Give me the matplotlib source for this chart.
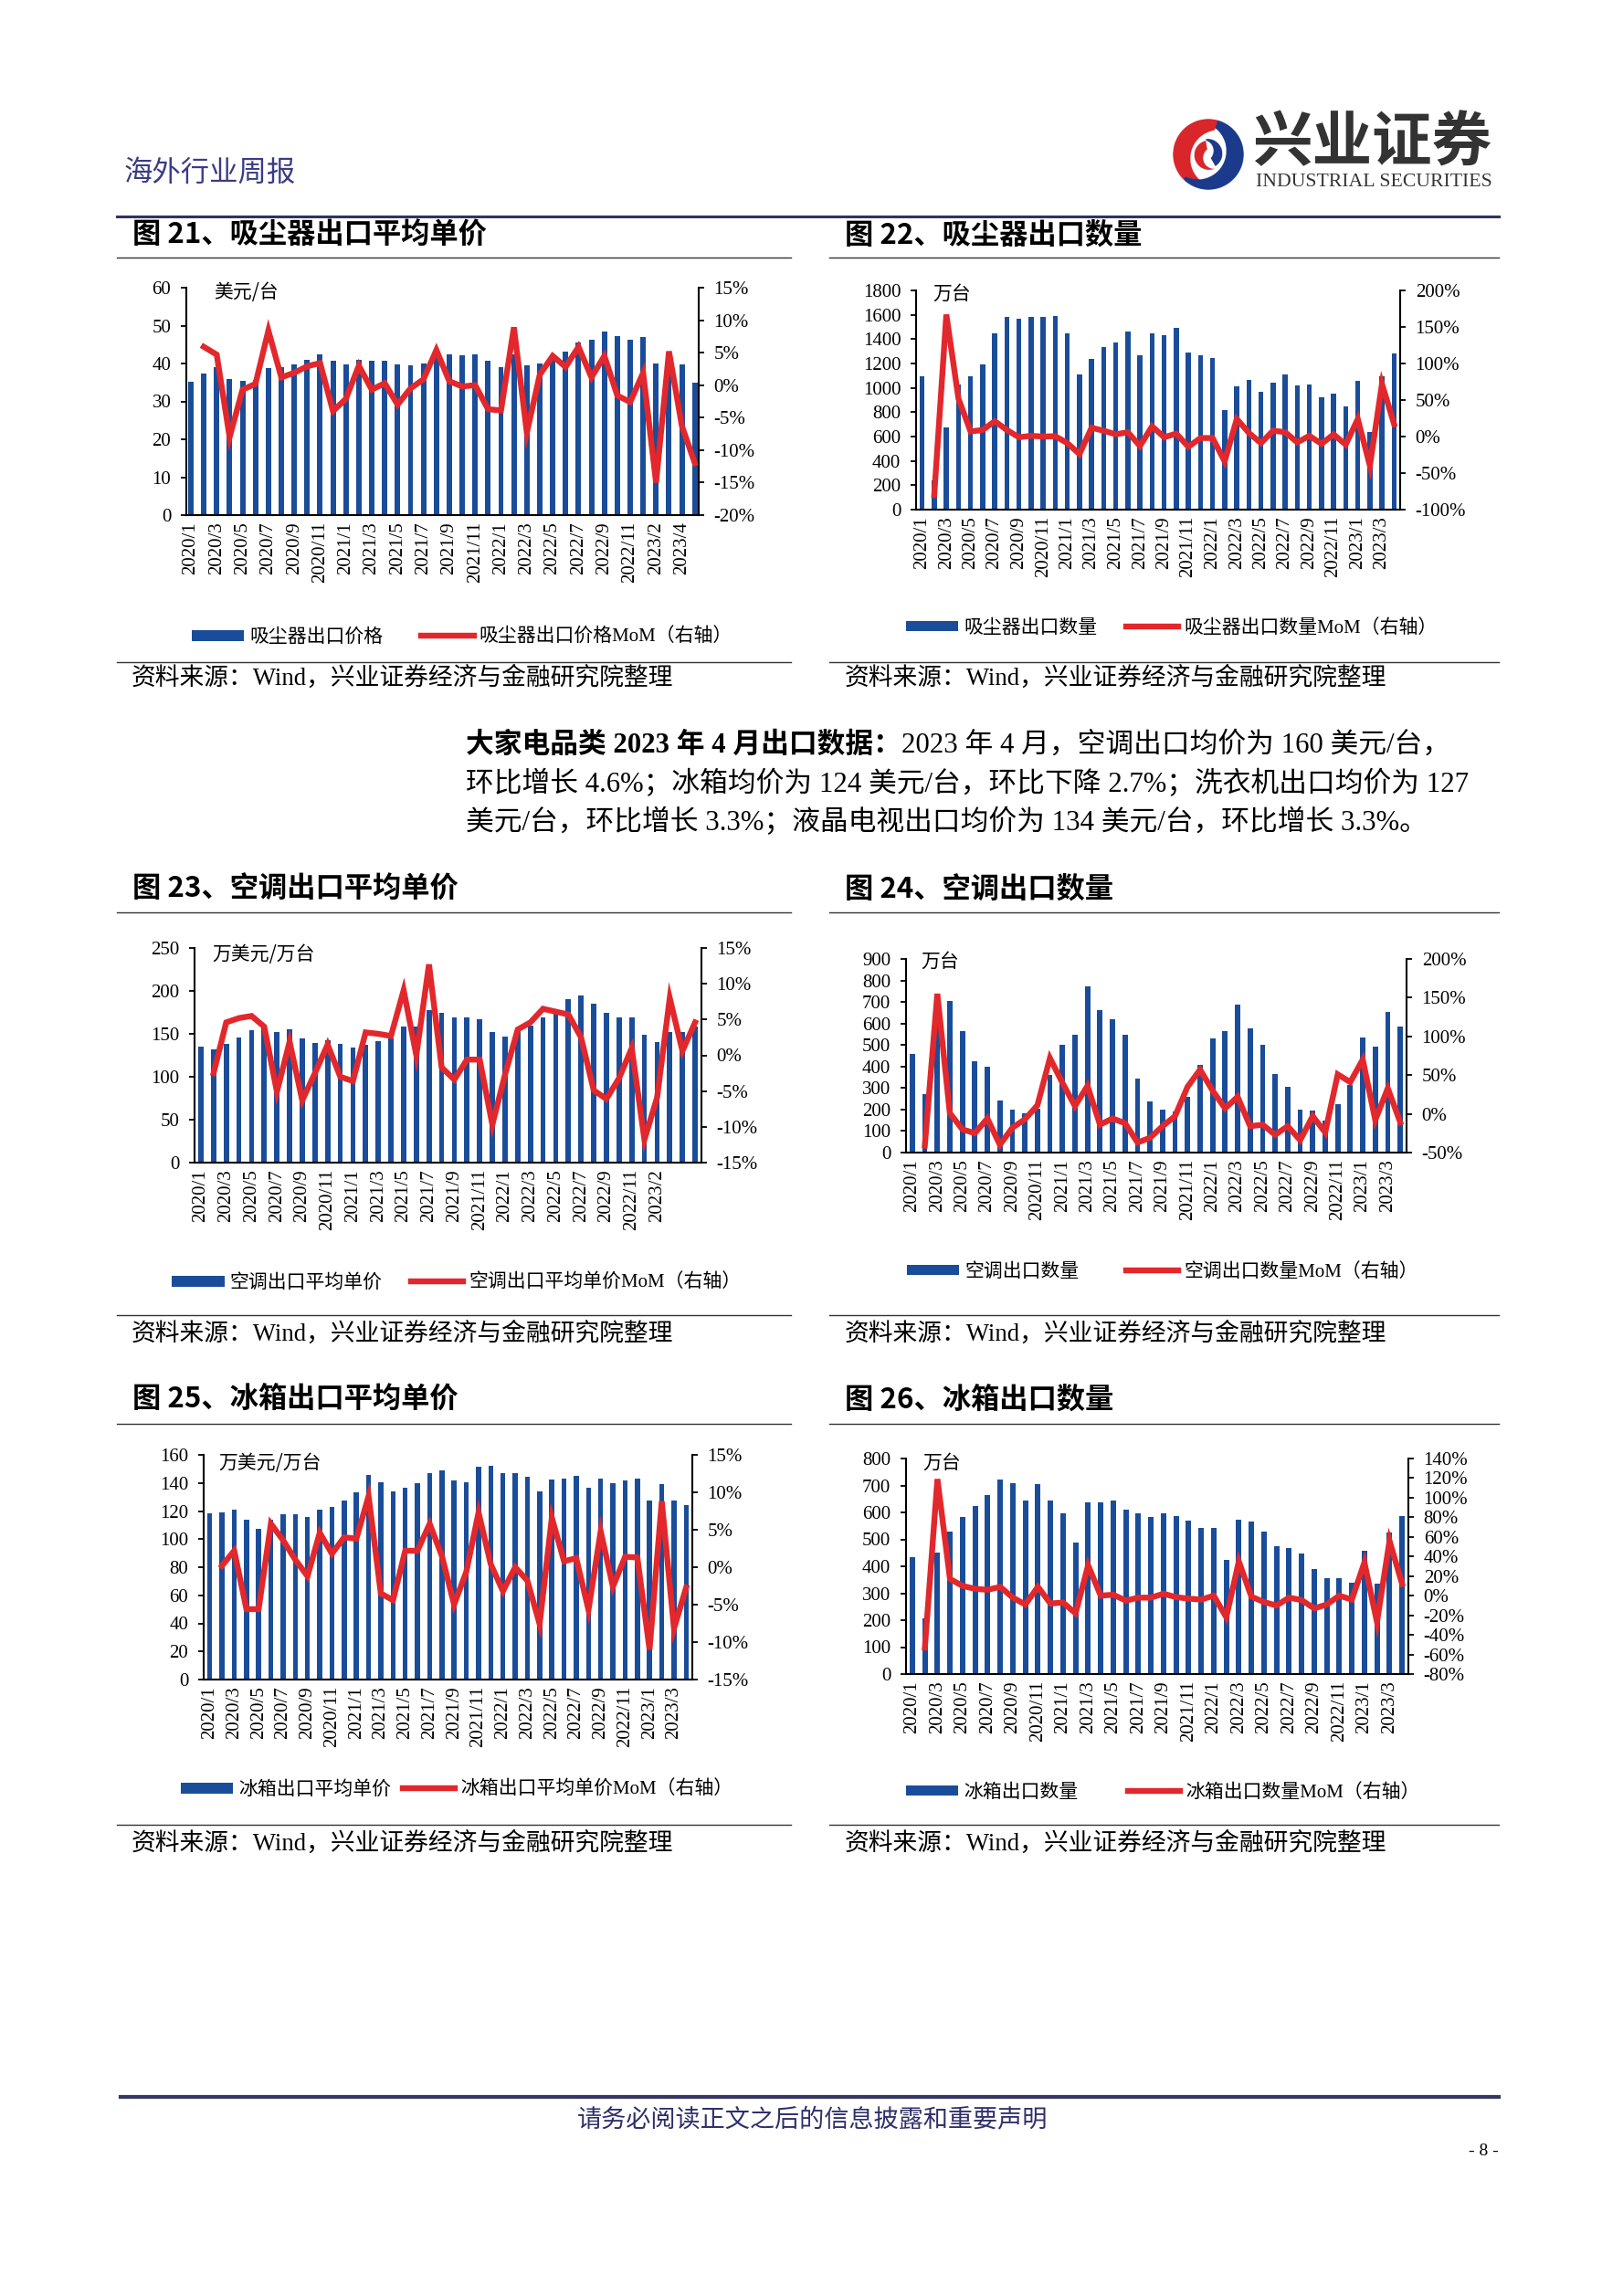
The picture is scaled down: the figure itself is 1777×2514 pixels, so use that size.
import numpy as np
import matplotlib
matplotlib.use('Agg')
import matplotlib.pyplot as plt
from matplotlib.font_manager import FontProperties
from matplotlib.lines import Line2D

# ---------------- data ----------------
months = ['2020/1', '2020/2', '2020/3', '2020/4', '2020/5', '2020/6', '2020/7', '2020/8',
          '2020/9', '2020/10', '2020/11', '2020/12', '2021/1', '2021/2', '2021/3', '2021/4',
          '2021/5', '2021/6', '2021/7', '2021/8', '2021/9', '2021/10', '2021/11', '2021/12',
          '2022/1', '2022/2', '2022/3', '2022/4', '2022/5', '2022/6', '2022/7', '2022/8',
          '2022/9', '2022/10', '2022/11', '2022/12', '2023/1', '2023/2', '2023/3', '2023/4']

labels_a = ['2020/1', '2020/3', '2020/5', '2020/7', '2020/9', '2020/11', '2021/1', '2021/3',
            '2021/5', '2021/7', '2021/9', '2021/11', '2022/1', '2022/3', '2022/5', '2022/7',
            '2022/9', '2022/11', '2023/2', '2023/4']
labels_b = ['2020/1', '2020/3', '2020/5', '2020/7', '2020/9', '2020/11', '2021/1', '2021/3',
            '2021/5', '2021/7', '2021/9', '2021/11', '2022/1', '2022/3', '2022/5', '2022/7',
            '2022/9', '2022/11', '2023/1', '2023/3']
labels_c = ['2020/1', '2020/3', '2020/5', '2020/7', '2020/9', '2020/11', '2021/1', '2021/3',
            '2021/5', '2021/7', '2021/9', '2021/11', '2022/1', '2022/3', '2022/5', '2022/7',
            '2022/9', '2022/11', '2023/2']

nan = np.nan
vac_price = [35.3, 37.3, 39.0, 35.9, 35.5, 35.7, 38.7, 39.0, 39.8, 41.0, 42.5, 40.8, 39.8, 41.0,
             40.7, 40.7, 39.7, 39.4, 40.1, 42.3, 42.5, 42.2, 42.5, 40.7, 39.0, 42.5, 39.5, 40.1,
             41.1, 43.1, 45.5, 46.3, 48.4, 47.3, 46.3, 47.0, 40.1, 42.2, 39.8, 34.9]
vac_price_mom = [nan, 5.9, 4.7, -8.0, -0.7, 0.2, 8.4, 1.2, 1.9, 2.9, 3.4, -4.0, -2.1, 3.0, -0.7,
                 0.3, -3.0, -0.5, 0.9, 5.4, 0.6, -0.2, 0.0, -3.7, -3.9, 8.9, -7.3, 1.6, 4.5, 2.8,
                 5.9, 1.2, 4.5, -1.6, -2.6, 1.9, -15.0, 5.2, -6.3, -12.0]

vac_qty = [1095, 240, 675, 1025, 1095, 1195, 1450, 1580, 1570, 1580, 1580, 1588, 1450, 1108,
           1238, 1333, 1375, 1463, 1270, 1450, 1430, 1493, 1288, 1268, 1245, 818, 1012, 1063,
           968, 1043, 1108, 1020, 1030, 925, 955, 850, 1055, 638, 1095, 1280]
vac_qty_mom = [nan, -80, 167, 52, 7, 9, 21, 9, -1, 1, 0, 0.5, -9, -24, 12, 8, 3, 6, -13, 14, -1,
               4, -14, -2, -2, -34, 24, 5, -9, 8, 6, -8, 1, -10, 3, -11, 24, -40, 72, 17]

ac_price = [135, 132, 138, 146, 154, 160, 152, 155, 145, 139, 143, 138, 134, 137, 141, 145, 158,
            158, 178, 175, 169, 169, 167, 152, 147, 153, 160, 169, 179, 190, 195, 185, 175, 169,
            169, 149, 140, 152, 152, 159]
ac_price_mom = [nan, -2.5, 4.6, 5.2, 5.5, 4.0, -5.1, 1.9, -6.3, -2.5, 1.5, -3.0, -3.6, 3.2, 3.0,
                2.7, 9.1, 0.0, 12.7, -1.7, -3.4, -0.6, -0.6, -9.7, -2.7, 3.6, 4.6, 6.5, 6.1, 5.7,
                2.5, -4.9, -6.1, -3.2, 1.0, -11.8, -5.9, 8.0, 0.6, 4.6]

ac_qty = [460, 272, 695, 704, 564, 424, 400, 241, 198, 184, 205, 360, 499, 546, 772, 662, 619,
          546, 344, 237, 198, 192, 259, 407, 529, 564, 687, 577, 499, 364, 305, 200, 194, 148,
          223, 315, 534, 492, 655, 584]
ac_qty_mom = [nan, -41, 155, 1, -20, -25, -6, -40, -18, -7, 11, 72, 40, 10, 36, -14, -6, -12,
              -37, -31, -16, -3, 35, 57, 30, 7, 22, -16, -14, -27, -16, -34, -3, -24, 51, 41, 70,
              -8, 33, -11]

fr_price = [118.5, 119, 121, 113.5, 107, 113.5, 117.4, 117.4, 115.7, 121, 123.2, 127.8, 133.6,
            145.5, 140.8, 134, 136.9, 139.7, 147, 149.2, 141.6, 140.8, 151.4, 152, 147, 147, 144.4,
            134.3, 142.3, 143.4, 145.1, 136.9, 143.4, 139.7, 141.6, 143.4, 127.8, 139, 127.8, 124]
fr_price_mom = [nan, 0.2, 2.2, -5.6, -5.6, 5.8, 3.6, 1.0, -1.2, 4.6, 1.8, 4.0, 3.8, 9.5, -3.5,
                -4.4, 2.2, 2.2, 5.8, 1.5, -5.0, -0.6, 7.3, 0.4, -3.2, 0.0, -1.8, -7.6, 6.6, 0.8,
                1.2, -5.7, 4.8, -2.6, 1.4, 1.3, -11.0, 8.8, -8.2, -2.7]

fr_qty = [434, 206, 451, 530, 584, 625, 665, 723, 710, 645, 704, 645, 597, 487, 637, 637, 645,
          611, 597, 584, 597, 588, 569, 544, 544, 423, 572, 567, 530, 476, 468, 447, 389, 355,
          355, 340, 456, 335, 524, 588]
fr_qty_mom = [nan, -53, 119, 17, 10, 7, 6, 9, -2, -9, 9, -8, -7, -18, 31, 0, 1, -5, -2, -2, 2,
              -1.5, -3, -4, 0, -22, 35, -1, -6.5, -10, -2, -4.5, -13, -9, 0, -4, 34, -27, 56, 12]

# ---------------- figure ----------------
W, H = 1777, 2514
fig = plt.figure(figsize=(W / 100, H / 100), dpi=100)
fig.patch.set_facecolor('white')
renderer = fig.canvas.get_renderer()

CJK = 'Noto Sans CJK SC'
MIX = ['Liberation Serif', 'Noto Sans CJK SC']
BLUE = '#1a4d99'
RED = '#e2282c'


def fx(x):
    return x / W


def fy(y):
    return 1 - y / H


def hline(x0, x1, y, lw, color):
    fig.add_artist(Line2D([fx(x0), fx(x1)], [fy(y), fy(y)], lw=lw, color=color,
                          transform=fig.transFigure))


def fit_text(x, y, s, width, ha='left', va='center', **kw):
    t = fig.text(fx(x), fy(y), s, fontsize=10, ha=ha, va=va, **kw)
    w = t.get_window_extent(renderer).width
    t.set_fontsize(10 * width / w)
    return t


def chart(box, bars, mom, lticks, rticks, xlabels, xlim, unit, unit_pos, names, leg_c, colsp):
    x0, y0, x1, y1 = box
    ax = fig.add_axes([fx(x0), fy(y1), (x1 - x0) / W, (y1 - y0) / H])
    pos = np.arange(len(months))
    b = ax.bar(pos, bars, width=0.42, color=BLUE, zorder=2)
    ax.set_xlim(*xlim)
    ax.set_ylim(lticks[0], lticks[-1])
    ax.set_yticks(lticks)
    ax.set_yticklabels([str(v) for v in lticks])
    ax.set_xticks(pos[::2][:len(xlabels)])
    ax.set_xticklabels(xlabels, rotation=90, ha='center', va='top')
    ax.tick_params(axis='x', length=0, pad=5, labelsize=15, labelfontfamily='Liberation Serif')
    ax.tick_params(axis='y', length=4, width=1.3, direction='out', pad=8, labelsize=15,
                   labelfontfamily='Liberation Serif')
    for s in ['top', 'right']:
        ax.spines[s].set_visible(False)
    for s in ['left', 'bottom']:
        ax.spines[s].set_linewidth(1.5)
        ax.spines[s].set_color('black')

    ax2 = ax.twinx()
    l, = ax2.plot(pos, mom, color=RED, lw=4.6, solid_joinstyle='miter', zorder=3)
    ax2.set_ylim(rticks[0], rticks[-1])
    ax2.set_yticks(rticks)
    ax2.set_yticklabels(['%d%%' % v for v in rticks])
    ax2.tick_params(axis='y', length=4, width=1.3, direction='out', pad=8, labelsize=15,
                    labelfontfamily='Liberation Serif')
    for s in ['top', 'left', 'bottom']:
        ax2.spines[s].set_visible(False)
    ax2.spines['right'].set_linewidth(1.5)
    ax2.spines['right'].set_color('black')

    fig.text(fx(unit_pos[0]), fy(unit_pos[1]), unit, fontsize=15, family=CJK,
             ha='left', va='center')
    fig.legend([b, l], names, loc='center', bbox_to_anchor=(fx(leg_c[0]), fy(leg_c[1])),
               ncol=2, frameon=False, prop=FontProperties(family=MIX, size=15),
               handlelength=2.75, handleheight=0.5, handletextpad=0.3, columnspacing=colsp,
               borderaxespad=0, borderpad=0)
    return ax, ax2


# ---------------- header ----------------
fit_text(136, 189, '海外行业周报', 188, family=CJK, color='#3b3b86')
eax = fig.add_axes([fx(1280), fy(210), 85 / W, 82 / H])
g = np.linspace(-1.05, 1.05, 360)
X, Y = np.meshgrid(g, g)
img = np.ones((360, 360, 4))
img[..., 3] = 0
ang = np.degrees(np.arctan2(Y, X)) % 360
in_unit = X ** 2 + Y ** 2 <= 1.0
red_m = in_unit & ((X - 0.30) ** 2 + (Y + 0.12) ** 2 > 0.80 ** 2) & (ang > 75) & (ang < 265)
blue_m = in_unit & ((X + 0.30) ** 2 + (Y - 0.10) ** 2 > 0.80 ** 2) & ~((ang > 75) & (ang < 225))
red_in = ((X - 0.02) ** 2 + (Y + 0.02) ** 2 <= 0.42 ** 2) & ((X - 0.16) ** 2 + (Y + 0.10) ** 2 > 0.30 ** 2) & (ang > 100) & (ang < 300)
blue_in = ((X + 0.02) ** 2 + (Y - 0.02) ** 2 <= 0.42 ** 2) & ((X + 0.16) ** 2 + (Y - 0.10) ** 2 > 0.30 ** 2) & ((ang < 100) | (ang > 300))
img[red_m | red_in] = [0.85, 0.15, 0.17, 1]
img[blue_m | blue_in] = [0.11, 0.23, 0.55, 1]
eax.imshow(img, origin='lower', extent=[-1.05, 1.05, -1.05, 1.05], interpolation='bilinear')
eax.axis('off')
fit_text(1371, 157, '兴业证券', 262, family=CJK, weight='bold', color='#333333')
fit_text(1375, 200, 'INDUSTRIAL SECURITIES', 258, family='Liberation Serif', color='#333333')
hline(128, 1641, 237, 2.2, '#33335f')

# ---------------- titles / separators ----------------
t21 = fit_text(145, 258, '图 21、吸尘器出口平均单价', 388, family=CJK, weight='bold')
tsz = t21.get_fontsize()
for (xx, yy, s) in [(925, 258, '图 22、吸尘器出口数量'), (145, 974, '图 23、空调出口平均单价'),
                    (925, 974, '图 24、空调出口数量'), (145, 1533, '图 25、冰箱出口平均单价'),
                    (925, 1533, '图 26、冰箱出口数量')]:
    fig.text(fx(xx), fy(yy), s, fontsize=tsz, family=CJK, weight='bold', ha='left', va='center')

for yy in [282, 999, 1559, 725, 1440, 1998]:
    hline(128, 866, yy, 1.0, '#333333')
    hline(908, 1641, yy, 1.0, '#333333')

src = '资料来源：Wind，兴业证券经济与金融研究院整理'
s0 = fit_text(144, 743, src, 594, family=MIX)
ssz = s0.get_fontsize()
for (xx, yy) in [(925, 743), (144, 1461), (925, 1461), (144, 2019), (925, 2019)]:
    fig.text(fx(xx), fy(yy), src, fontsize=ssz, family=MIX, ha='left', va='center')

# ---------------- paragraph ----------------
p2 = fit_text(510, 858, '环比增长 4.6%；冰箱均价为 124 美元/台，环比下降 2.7%；洗衣机出口均价为 127',
              1098, family=MIX)
psz = p2.get_fontsize()
pb = fig.text(fx(510), fy(816), '大家电品类 2023 年 4 月出口数据：', fontsize=psz, family=MIX,
              weight='bold', ha='left', va='center')
bw = pb.get_window_extent(renderer).width
fig.text(fx(510 + bw), fy(816), '2023 年 4 月，空调出口均价为 160 美元/台，', fontsize=psz,
         family=MIX, ha='left', va='center')
fig.text(fx(510), fy(900), '美元/台，环比增长 3.3%；液晶电视出口均价为 134 美元/台，环比增长 3.3%。',
         fontsize=psz, family=MIX, ha='left', va='center')

# ---------------- charts ----------------
chart((204, 315, 765, 564), vac_price, vac_price_mom, list(range(0, 61, 10)),
      list(range(-20, 16, 5)), labels_a, (-0.35, 39.3), '美元/台', (234, 320),
      ['吸尘器出口价格', '吸尘器出口价格MoM（右轴）'], (506, 698), 2.0)
chart((1003, 318, 1533, 558), vac_qty, vac_qty_mom, list(range(0, 1801, 200)),
      list(range(-100, 201, 50)), labels_b, (-0.5, 39.5), '万台', (1021, 322),
      ['吸尘器出口数量', '吸尘器出口数量MoM（右轴）'], (1283, 688), 1.5)
chart((213, 1038, 768, 1273), ac_price, ac_price_mom, list(range(0, 251, 50)),
      list(range(-15, 16, 5)), labels_c, (-0.5, 39.5), '万美元/万台', (232, 1045),
      ['空调出口平均单价', '空调出口平均单价MoM（右轴）'], (500, 1405), 1.5)
chart((992, 1050, 1540, 1262), ac_qty, ac_qty_mom, list(range(0, 901, 100)),
      list(range(-50, 201, 50)), labels_b, (-0.5, 39.5), '万台', (1008, 1053),
      ['空调出口数量', '空调出口数量MoM（右轴）'], (1273, 1393), 2.45)
chart((223, 1593, 758, 1839), fr_price, fr_price_mom, list(range(0, 161, 20)),
      list(range(-15, 16, 5)), labels_b, (-0.5, 39.5), '万美元/万台', (239, 1602),
      ['冰箱出口平均单价', '冰箱出口平均单价MoM（右轴）'], (500, 1960), 0.6)
chart((992, 1597, 1542, 1833), fr_qty, fr_qty_mom, list(range(0, 801, 100)),
      list(range(-80, 141, 20)), labels_b, (-0.5, 39.5), '万台', (1010, 1602),
      ['冰箱出口数量', '冰箱出口数量MoM（右轴）'], (1273, 1963), 2.6)

# ---------------- footer ----------------
hline(132, 1641, 2296, 3.0, '#363666')
fit_text(890, 2321, '请务必阅读正文之后的信息披露和重要声明', 516, ha='center', family=CJK,
         color='#2f2f6a')
fig.text(fx(1624), fy(2355), '- 8 -', fontsize=14, family='Liberation Serif', ha='center',
         va='center')

fig.savefig('out.png', dpi=100, facecolor='white')
